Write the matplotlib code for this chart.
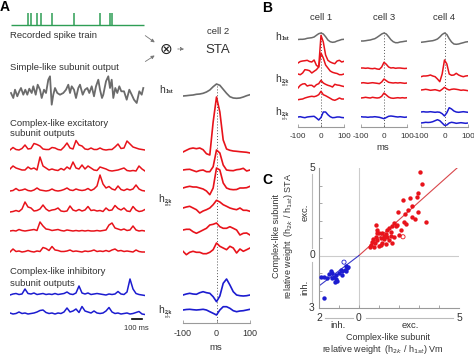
import numpy as np
import matplotlib
matplotlib.use("Agg")
import matplotlib.pyplot as plt

plt.rcParams["font.family"] = ["Liberation Sans", "DejaVu Sans"]

W, H = 474, 355
RED = "#e8131b"
BLUE = "#1c1cd0"
GRAY = "#6b6b6b"
GREEN = "#2e9e55"
AXC = "#9a9a9a"
TXT = "#333333"

# ---------------- data ----------------
# recorded spikes (ms)
spike_times = [180, 210, 270, 310, 420, 640, 900, 1000, 1020]

# simple-like subunit output (ms, arbitrary units ~ px)
simple_t = [10, 33, 50, 73, 93, 110, 133, 153, 173, 193, 217, 233, 257, 277, 300, 317,
            340, 360, 383, 400, 417, 433, 450, 473, 500, 533, 560, 583, 600, 617, 640,
            660, 683, 700, 727, 750, 773, 793, 817, 840, 860, 883, 900, 920, 933, 960,
            983, 1000, 1017, 1033, 1053, 1073, 1093, 1113, 1140, 1167, 1193, 1217, 1240,
            1267, 1293, 1317, 1333]
simple_v = [0, -5, 3.3, -3.3, 1.7, 5, -1.7, 3.3, -1.7, 4.3, 0, 6.7, -1.7, 8.3, 3.3, -5,
            3.3, 0, 13.3, 16.7, -11.7, -1.7, 5, 0, -1.7, 0, 3.3, 8.3, 0, 6.7, 3.3, -5, 5,
            8.3, -1.7, 3.3, 5, 0, 6.7, -3.3, 6.7, 13.3, 3.3, -5, -1.7, 11.7, 16.7, 5, 13.3,
            -5, 5, 0, 6.7, 1.7, 1.7, -6.7, 3.3, -1.7, -6.7, -10, 1.7, -1.7, 5]

# complex-like subunit outputs, sampled every 30 ms
trace_t = np.arange(0, 1351, 30)
exc_traces = [
    [0, 2.5, 0.5, 0, 1.5, 5, 1, 1.5, 6.5, 5.5, 4, 1, 0.5, 0.5, 2.5, 2, 0.5, 0, 3, 7,
     2, 1, 9.5, 5, 4, 1, 0.5, 2, 0.5, 0.5, 2, 0.5, 0, 0.5, 0.5, 3, 6, 1.5, 2, 9, 6, 3, 2, 1, 0.5, 0],
    [2, 5, 3, 2, 1, 1, 4, 2, 3, 1, 14, 5, 3, 1, 2, 1, 0.5, 2.5, 1, 4, 2, 9, 3, 2, 6, 2,
     5, 3, 1, 0.5, 4, 3, 2, 0.5, 0, 0.5, 1, 2, 3, 0.5, 0, 0.5, 0, 5, 2, 0],
    [0, 0.5, 2.5, 0.5, 1, 2, 0.5, 0, 1, 3, 1, 0.5, 0, 0.5, 2, 0.5, 0, 0.5, 1.5, 3, 1,
     0.5, 2, 1, 0.5, 1, 2.5, 0.5, 2, 5, 16, 7, 3, 4.5, 2, 1, 5, 1.5, 0.5, 2, 1, 2, 6, 2, 0.5, 0],
    [0, 0.5, 1.5, 0.5, 3, 10, 5, 4, 1, 1.5, 3, 7, 3, 1, 2, 2.5, 4, 1, 0.5, 1, 6, 2, 1,
     2.5, 1, 2, 5.5, 1.5, 2, 1, 1.5, 0.5, 4, 1.5, 2, 6.5, 3.5, 2, 4, 1, 0.5, 5.5, 2, 0.5, 1, 2.5],
    [0, 0.5, 0, 1.5, 0.5, 0, 0.5, 1, 1.5, 0.5, 9, 5, 2, 1.5, 0.5, 1, 1.5, 0.5, 0, 1, 0.5,
     0, 0.5, 0, 0.5, 0, 0.5, 0, 0, 0.5, 0, 0.5, 1, 6, 8, 3, 2, 1, 2, 0.5, 1, 5, 1, 0, 0.5, 0],
    [0, 3, 0.5, 1, 0, 0.5, 1.5, 0.5, 0, 1, 0.5, 4.5, 3.5, 1.5, 5.5, 2, 1.5, 0.5, 0.5, 1,
     2, 0.5, 1, 0.5, 0, 1, 0.5, 1, 2, 0.5, 1, 0.5, 1.5, 0.5, 2, 3, 1, 1.5, 0.5, 1, 0.5, 0, 2, 0.5, 0, 0],
]
inh_traces = [
    [0, 1, 1.5, 0.5, 1, 6, 1.5, 1, 2, 0.5, 1, 1.5, 0.5, 1, 0.5, 1.5, 0.5, 1, 1.5, 3, 1,
     0.5, 2, 9, 2, 1, 2, 0.5, 1, 1.5, 1, 0.5, 0, 1, 0.5, 1, 3.5, 1, 0.5, 3, 16, 6, 1.5, 0.5, 0, -0.5],
    [1, 0, 0.5, 2, 0.5, 1, 0, 0.5, 1, 2, 3.5, 4, 1.5, 0.5, 1, 0, 1, 0.5, 2, 6, 2, 3, 5,
     1.5, 7.5, 3, 2, 1, 3, 1, 0.5, 1, 3, 6.5, 2, 0.5, 1, 0, 0.5, 1, 0, 0.5, 1.5, 2.5, 0, -0.5],
]

# STA kernels (ms lag), cell 2
kern_t = np.arange(-100, 101, 10)
a_h1 = [0, 0.3, 0.7, 1, 1.7, 2, 2.7, 4, 6, 9.3, 12, 10.7, 6.7, 2.7, -0.7, -2, -2.3, -2, -1, 0.3, 1.3]
a_exc = [
    [0, 1.7, 3.3, 4, 3.3, 4, 2.3, -1.7, -3, 30, 55, 40, 12, 3, 1.7, 1, 0.7, 0.3, 0, -0.3, -1],
    [0, 0.5, 0.7, -0.5, -1.7, -0.5, 0, -1.7, -1.7, 3.3, 20, 17, 5, 0, -0.5, -0.7, 0.3, 0.7, 1.7, -1, 0],
    [0, 1, 1.7, 1, 1, 0, -1, -3, -6.7, 0, 20, 18, 5, 0, -1.3, -1.7, -1.5, 0, 0, 0.3, 1.7],
    [0, 1, 1.7, 0, -1.7, -5, -3, -1.7, 0, 3.3, 7.7, 6, 3.3, 1.7, 0, -1, -1.7, 0, -2.3, -2.3, -3.3],
    [0, 0.7, 0.7, -1.7, -3.3, -1.7, 0, 1.7, 5, 5.7, 7, 3.3, 1.7, 1.7, 3.3, 1.7, 0, -5, -3.3, -3, -5],
    [1.7, -1.7, 0.7, 1.7, 0.7, 0.7, -0.7, -0.7, 0.7, 3.3, 10, 6.7, 5, 3.3, 6.7, 5, 0, 4, 1.7, 3.3, 5],
]
a_inh = [
    [0, 1, 1.7, 1, 0.7, 2.3, 3.3, 2.3, 1.7, -1.7, -6.7, -1, 11.7, 16, 10, 3.3, 0, -0.7, -1, -0.7, 0],
    [0, 0.5, 0.7, 0.3, 0, 0.3, 0.7, 0, -1.7, -3.3, -5, 0, 3.3, 3.3, 1.7, -0.7, -1.7, -1, -0.7, 0, 0.7],
]

# panel B: other cells
b_cells = ["cell 1", "cell 3", "cell 4"]
b_h1 = [
    [0.5, 0.7, 0.7, 1, 1.7, 2, 2.3, 3, 4.7, 6.3, 7, 6, 3.3, 0, -1.7, -2.3, -2, -1, -0.3, 0.5, 0.7],
    [0, 0, 0.3, 0.7, 1, 1.7, 2.3, 3.7, 5.3, 7, 8, 7, 4.3, 1.3, -0.7, -1.7, -1.7, -1, -0.7, -0.3, 0],
    [-0.3, 0, 0.3, 0.7, 1, 1.3, 2, 3, 5, 7.5, 9, 7.5, 3.3, 0, -2, -2.3, -2, -1.3, -0.7, 0, 0.3],
]
b_exc = [
    [[-1, 0.5, 1, 1.3, 1.7, 0.5, 0, 2, -3.3, -5, 26.7, 20, 7, 1.7, 0, -1, -1.7, 1, 1.7, 0, 0.7],
     [-1, -1.7, 0, 3.3, 3, 2.3, 0, 1.7, 3.3, 6, 20, 15, 8, 5, 2, 0.7, 0, -0.5, -1.7, -1.7, -1],
     [-1, 1.7, 3, 3.3, 1, 1.7, 1.7, 0, 2.3, 3.3, 6.7, 4, 2.7, 1.7, 1, 0, 2.7, 2, 1.7, 1, 0.5],
     [-1.7, -1.3, -1, 0, 0.7, 1.3, 1.7, 1.3, 2, 3.3, 6.7, 3.3, 2.3, 1, -0.3, -1.7, -2.3, -1.3, 0, -1, -1]],
    [[0, 0, -0.3, 0, -0.5, -0.7, -0.3, -1, -1.3, 1, 5.7, 3.7, 1, 0, 0.3, -0.3, 0, 0, -0.3, -0.5, -0.3],
     [0, 0.3, 0, -0.3, 0, 0.3, 0, -0.3, -0.7, 1, 4, 2.3, 0.7, 0.3, 0, 0.3, 0, 0.3, 0, -0.3, 0],
     [0, 0.3, 0.7, 0.3, 0, 0.7, 0.3, 0, 0.3, 1.7, 5, 3, 1, 0, -0.3, 0, 0.3, 0, 0.3, 0, 0.3]],
    [[-0.7, 0, 0, 0.3, 1, 0, -0.7, -3, -5.7, 2, 16, 12, 2, 0.7, 1, 2.7, 1, 0, -0.7, 0, 0.3],
     [0, 0.3, 0.7, 0.3, -0.3, 0, 0.3, -0.3, -1, 0.7, 2.7, 1, 0, 0.7, 1, 0.7, 0.3, -0.3, 0, -0.3, -0.7]],
]
b_inh = [
    [[0, 0.3, -0.3, -0.7, 0, 0.3, 0.5, 0.7, -1, -3, -0.5, 5, 5, 2.3, 0.3, -0.7, -0.5, 0, 0, -0.5, -0.7]],
    [[0.3, 0, 0, -0.3, 0, 0, 0.3, 0, -0.3, -1, -1.7, -0.5, 0.7, 1, 0.7, 0.3, 0, 0.3, 0, -0.3, 0]],
    [[0, 0.3, 0, 0, 0.3, 0, -0.3, 0, -0.3, -1.7, -4, -0.7, 4.3, 3, 1, 0, -0.3, 0, 0.3, 0, -0.3],
     [0, 0.3, 0.7, 0.5, 0.7, 1.3, 2.3, 3.3, 2.3, 0, -2.3, -2, 0, 0.7, 0.3, -0.3, 0, 0.3, 0, -0.3, 0]],
]

# panel C: relative weights, Vm (x) vs STA (y)
red_x = [3.05, 3.13, 2.95, 2.88, 2.53, 2.20, 2.63, 2.47, 2.30, 2.95, 1.93, 2.67, 2.80, 3.37,
         2.25, 1.75, 1.92, 1.67, 1.50, 1.42, 1.17, 0.87, 0.92, 1.00, 1.33, 1.58, 1.75, 1.42,
         1.25, 1.50, 1.63, 1.17, 1.08, 0.92, 0.80, 0.67, 0.58, 0.75, 1.00, 1.37, 0.83, 0.70,
         0.53, 1.08, 1.83, 2.08, 1.58, 1.25, 0.88, 2.00, 2.33]
red_y = [4.80, 4.10, 3.56, 3.33, 3.28, 3.18, 2.84, 2.61, 2.38, 2.51, 2.48, 2.19, 2.08, 1.92,
         1.90, 1.85, 1.75, 1.70, 1.56, 1.43, 1.31, 1.75, 1.47, 1.31, 1.24, 1.12, 1.05, 1.05,
         0.93, 0.86, 0.70, 0.70, 0.59, 0.86, 0.74, 0.80, 0.59, 0.48, 0.55, 0.67, 1.05, 0.93,
         0.48, 0.99, 1.66, 1.43, 1.37, 1.12, 1.28, 1.18, 1.81]
blue_x = [-0.67, -0.58, -0.70, -0.83, -1.00, -0.92, -1.13, -1.33, -1.42, -1.25, -1.17, -1.08,
          -1.37, -1.50, -1.92, -1.75, -1.58, -0.83, -0.63, -1.75, -0.53, -1.20]
blue_y = [-0.59, -0.72, -0.82, -0.91, -1.01, -0.82, -1.10, -1.01, -0.91, -1.20, -1.35, -1.43,
          -1.30, -1.05, -1.20, -1.24, -1.30, -1.10, -0.86, -2.44, -0.63, -1.49]
red_open = (2.20, 1.07)
blue_open = (-0.75, -0.38)
red_slope, blue_slope = 1.02, 0.87

# ---------------- layout (figure pixels) ----------------
simple_row = 93
exc_rows = [150, 171, 191, 212, 231, 252]
inh_rows = [295, 314]
a_h1_row = 96
a_exc_rows = [152, 170, 188, 208, 230, 253]
a_inh_rows = [295, 310]
b_x = [(298, 344), (361, 407), (421, 468)]
b_h1_rows = [40, 41, 42]
b_exc_rows = [[62, 73, 87, 98], [68, 83, 98], [76, 90]]
b_inh_rows = [[117], [117], [112, 123]]

fig = plt.figure(figsize=(W / 100, H / 100), dpi=100)


def px_axes(x0, y0, x1, y1):
    return fig.add_axes([x0 / W, 1 - y1 / H, (x1 - x0) / W, (y1 - y0) / H])


canvas = px_axes(0, 0, W, H)
canvas.set_xlim(0, W)
canvas.set_ylim(H, 0)
canvas.axis("off")


def txt(x, y, s, size=6.8, **kw):
    kw.setdefault("va", "center")
    kw.setdefault("color", TXT)
    canvas.text(x, y, s, fontsize=size, **kw)


def h_label(x, y, sub, sub2=None):
    txt(x, y, "h", size=7.5, ha="center")
    txt(x + 3.5, y + 1.5, sub, size=3.8, weight="bold")
    if sub2:
        txt(x + 3.5, y + 6.5, sub2, size=3.2)


def kernel_axes(x0, x1, bottom, labelsize=6.5):
    ax = px_axes(x0, 0, x1, bottom)
    ax.set_xlim(-100, 100)
    ax.set_ylim(bottom, 0)
    ax.patch.set_visible(False)
    for s in ["top", "left", "right"]:
        ax.spines[s].set_visible(False)
    ax.spines["bottom"].set_color(AXC)
    ax.spines["bottom"].set_linewidth(0.8)
    ax.set_yticks([])
    ax.set_xticks([-100, 0, 100])
    ax.set_xticklabels(["-100", "0", "100"])
    ax.tick_params(axis="x", direction="in", length=2.5, width=0.6, color=AXC,
                   labelsize=labelsize, labelcolor=TXT, pad=4)
    return ax


# ---------------- panel A ----------------
txt(0, 7, "A", size=10, weight="bold", color="black")
txt(10, 35, "Recorded spike train")
txt(10, 68, "Simple-like subunit output")
txt(10, 123, "Complex-like excitatory")
txt(10, 134, "subunit outputs")
txt(10, 272, "Complex-like inhibitory")
txt(10, 283, "subunit outputs")
txt(136, 328, "100 ms", size=5.5, ha="center")

ax = px_axes(10, 0, 145, H)
ax.set_xlim(0, 1350)
ax.set_ylim(H, 0)
ax.axis("off")
ax.hlines(25, 10, 1340, color=GREEN, lw=1.0)
ax.vlines(spike_times, 13, 25, color=GREEN, lw=1.1)
ax.plot(simple_t, simple_row - np.array(simple_v), color=GRAY, lw=1.3)
for row, v in zip(exc_rows, exc_traces):
    ax.plot(trace_t, row - np.array(v), color=RED, lw=1.1)
for row, v in zip(inh_rows, inh_traces):
    ax.plot(trace_t, row - np.array(v), color=BLUE, lw=1.1)
ax.plot([1220, 1320], [319, 319], color="black", lw=1.2)

# multiplication scheme
arr = dict(arrowstyle="-|>", color="#777777", lw=0.6, mutation_scale=5)
canvas.annotate("", xy=(157, 44), xytext=(143, 34), arrowprops=arr)
canvas.annotate("", xy=(157, 54), xytext=(143, 63), arrowprops=arr)
canvas.annotate("", xy=(187, 49), xytext=(175, 49),
                arrowprops=dict(arr, linestyle=(0, (2, 1.5))))
txt(166, 49, "\u2297", size=11, ha="center", family="DejaVu Sans", color="#222222")
txt(218, 31, "cell 2", ha="center")
txt(218, 50, "STA", size=9.5, ha="center")

h_label(162, 90, "1st")
h_label(161, 199, "2,k", "exc")
h_label(161, 310, "2,k", "inh")

ax = kernel_axes(183, 250, 323)
ax.plot([0, 0], [86, 323], ls=(0, (1, 2)), color="#555555", lw=0.7)
ax.plot(kern_t, a_h1_row - np.array(a_h1), color=GRAY, lw=1.2)
for row, v in zip(a_exc_rows, a_exc):
    ax.plot(kern_t, row - np.array(v), color=RED, lw=1.2)
for row, v in zip(a_inh_rows, a_inh):
    ax.plot(kern_t, row - np.array(v), color=BLUE, lw=1.2)
txt(216, 347, "ms", ha="center")

# ---------------- panel B ----------------
txt(262, 8, "B", size=10, weight="bold", color="black")
h_label(278, 37, "1st")
h_label(278, 79, "2,k", "exc")
h_label(278, 112, "2,k", "inh")
for i, name in enumerate(b_cells):
    x0, x1 = b_x[i]
    txt((x0 + x1) / 2, 17, name, ha="center")
    ax = kernel_axes(x0, x1, 127, labelsize=5.9)
    ax.plot([0, 0], [32, 127], ls=(0, (1, 2)), color="#555555", lw=0.7)
    ax.plot(kern_t, b_h1_rows[i] - np.array(b_h1[i]), color=GRAY, lw=1.1)
    for row, v in zip(b_exc_rows[i], b_exc[i]):
        ax.plot(kern_t, row - np.array(v), color=RED, lw=1.1)
    for row, v in zip(b_inh_rows[i], b_inh[i]):
        ax.plot(kern_t, row - np.array(v), color=BLUE, lw=1.1)
txt(383, 148, "ms", ha="center")

# ---------------- panel C ----------------
txt(262, 180, "C", size=10, weight="bold", color="black")
ax = px_axes(319, 168, 459, 308)
ax.set_xlim(-2, 5)
ax.set_ylim(-3, 5)
ax.patch.set_visible(False)
for s in ["top", "right"]:
    ax.spines[s].set_visible(False)
for s in ["left", "bottom"]:
    ax.spines[s].set_color(AXC)
    ax.spines[s].set_linewidth(0.8)
ax.set_xticks([])
ax.set_yticks([])
ax.set_xticks(np.arange(-1, 5), minor=True)
ax.set_yticks([-2, -1, 1, 2, 3, 4], minor=True)
ax.tick_params(which="minor", direction="in", length=2.5, width=0.6, color=AXC)
ax.axvline(0, color="#cccccc", lw=0.8, zorder=0)
ax.axhline(0, color="#cccccc", lw=0.8, zorder=0)
ax.plot([0, 5], [0, 5 * red_slope], color="#d9474b", lw=0.8)
ax.plot([0, -2], [0, -2 * blue_slope], color="#3a3ac8", lw=0.8)
ax.scatter(red_x, red_y, s=10, color=RED, lw=0, zorder=3)
ax.scatter(blue_x, blue_y, s=10, color=BLUE, lw=0, zorder=3)
ax.scatter(*red_open, s=9, facecolor="none", edgecolor=RED, lw=0.6, zorder=3)
ax.scatter(*blue_open, s=9, facecolor="none", edgecolor=BLUE, lw=0.6, zorder=3)

# axis annotations (sign brackets)
for lab, yv in [("5", 5), ("0", 0), ("3", -3)]:
    ax.text(-0.05, yv, lab, transform=ax.get_yaxis_transform(), ha="center",
            va="center", fontsize=7.5, color=TXT)
for lab, xv in [("2", -2), ("0", 0), ("5", 5)]:
    ax.text(xv, -0.07, lab, transform=ax.get_xaxis_transform(), ha="center",
            va="center", fontsize=7.5, color=TXT)
for y0, y1 in [(174, 248), (262, 302)]:
    canvas.plot([312, 312], [y0, y1], color="#bbbbbb", lw=0.8)
for x0, x1 in [(325, 353), (366, 453)]:
    canvas.plot([x0, x1], [318, 318], color="#bbbbbb", lw=0.8)
txt(305, 212, "exc.", rotation=90, ha="center")
txt(305, 287, "inh.", rotation=90, ha="center")
txt(338, 325, "inh.", ha="center")
txt(410, 325, "exc.", ha="center")

txt(277, 236, "Complex-like subunit", size=6.5, rotation=90, ha="center")
txt(289, 236, "relative weight  (h$_{2k}$ / h$_{1st}$) STA", size=6.5, rotation=90, ha="center")
txt(388, 337, "Complex-like subunit", size=6.5, ha="center")
txt(383, 350, "relative weight  (h$_{2k}$ / h$_{1st}$) Vm", size=6.5, ha="center")

fig.savefig("out.png", dpi=100)
